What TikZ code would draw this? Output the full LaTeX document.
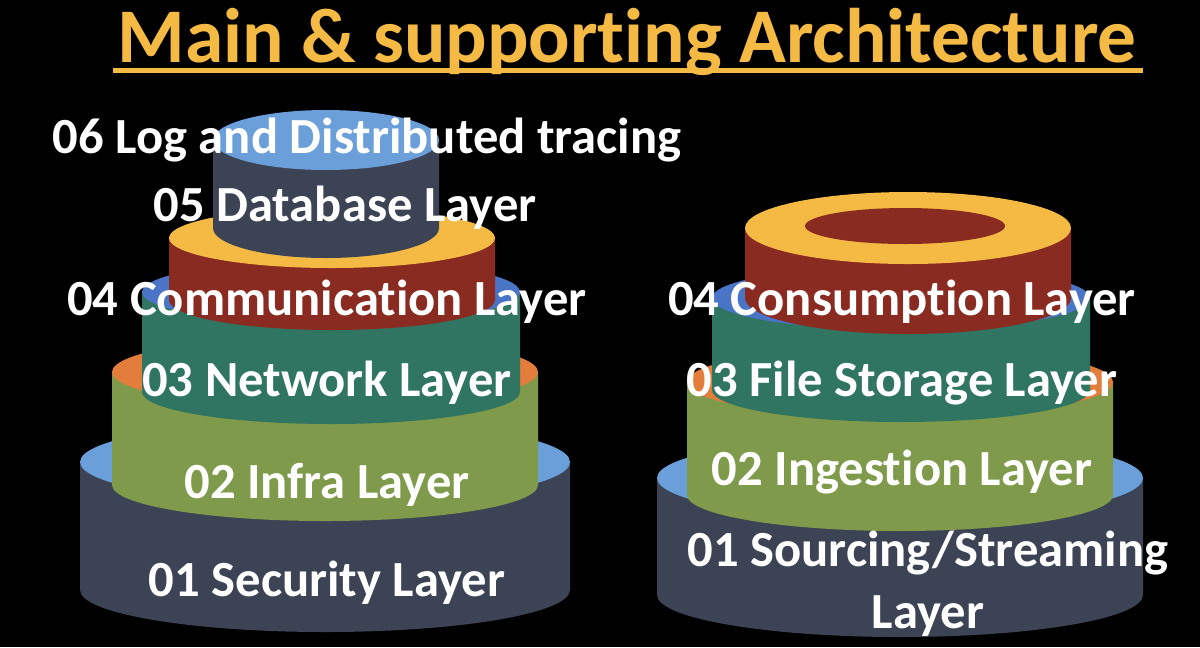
\documentclass[tikz,border=0pt]{standalone}
\usepackage{fontspec}
\setmainfont[Ligatures=NoCommon]{Carlito}
\definecolor{slate}{HTML}{3B4354}
\definecolor{lblue}{HTML}{6B9FD9}
\definecolor{olive}{HTML}{7E9A4A}
\definecolor{orng}{HTML}{E27D3C}
\definecolor{teal}{HTML}{2F7561}
\definecolor{mblue}{HTML}{4A74C6}
\definecolor{dred}{HTML}{8A2B22}
\definecolor{gold}{HTML}{F5BA43}
\newcommand{\cyl}[7]{% cx, topy, boty, rx, ry, side, top
  \fill[#6] (#1-#4,#2) -- (#1-#4,#3) arc[start angle=180,end angle=0,x radius=#4,y radius=#5] -- (#1+#4,#2) -- cycle;
  \fill[#7] (#1,#2) ellipse[x radius=#4,y radius=#5];}
\tikzset{lbl/.style={text=white,font=\bfseries\fontsize{36}{40}\selectfont,align=center,inner sep=0pt}}
\begin{document}
\begin{tikzpicture}[x=0.025cm,y=-0.025cm]
\fill[black] (0,0) rectangle (1200,647);
\node[text=gold,font=\bfseries\fontsize{55}{60}\selectfont,inner sep=0pt] (title) at (627,42) {Main \& supporting Architecture};
\fill[gold] (113,68) rectangle (1143,73);
% left stack
\cyl{325}{462}{590}{245}{42}{slate}{lblue}
\cyl{325}{372}{485}{213}{36}{olive}{orng}
\cyl{331}{292}{392}{189}{32}{teal}{mblue}
\cyl{332}{238}{300}{163}{30}{dred}{gold}
\cyl{326}{140}{228}{113}{30}{slate}{lblue}
% right stack
\cyl{900}{478}{595}{243}{42}{slate}{lblue}
\cyl{900}{382}{495}{213}{36}{olive}{orng}
\cyl{901}{298}{390}{189}{32}{teal}{mblue}
\cyl{908}{228}{298}{163}{36}{dred}{gold}
\fill[dred] (905,226) ellipse[x radius=100,y radius=18];
% labels
\node[lbl] (l6) at (367,140) {06 Log and Distributed tracing};
\node[lbl] (l5) at (345,208) {05 Database Layer};
\node[lbl] (l4) at (327,302) {04 Communication Layer};
\node[lbl] (l3) at (327,383) {03 Network Layer};
\node[lbl] (l2) at (327,485) {02 Infra Layer};
\node[lbl] (l1) at (327,583) {01 Security Layer};
\node[lbl] (r4) at (902,302) {04 Consumption Layer};
\node[lbl] (r3) at (902,383) {03 File Storage Layer};
\node[lbl] (r2) at (902,472) {02 Ingestion Layer};
\node[lbl] (r1) at (928,584) {01 Sourcing/Streaming\\[4pt]Layer};
\end{tikzpicture}
\end{document}
